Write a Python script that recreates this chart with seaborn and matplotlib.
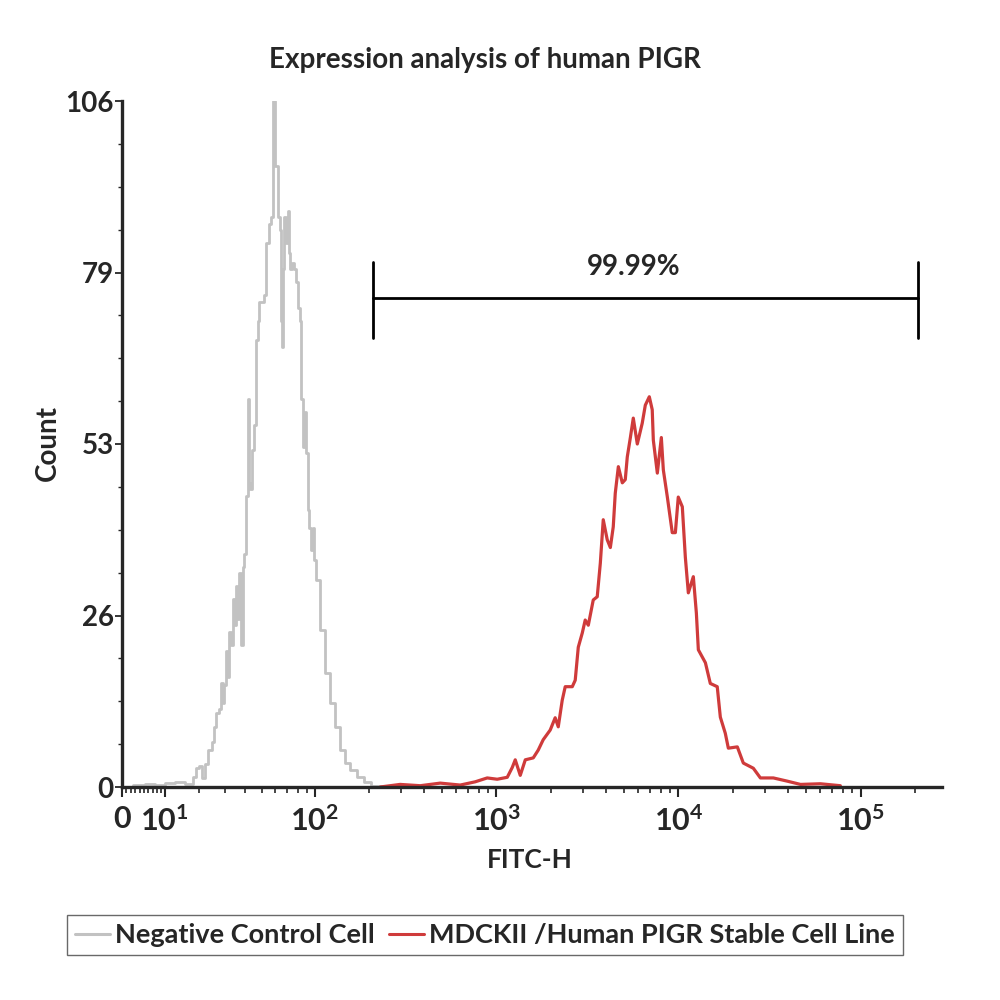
import numpy as np
import pandas as pd
import matplotlib
matplotlib.use("Agg")
import matplotlib.pyplot as plt
from matplotlib.lines import Line2D
import seaborn as sns

# negative control: FITC-H channel value and event count
neg_fitc = [0.9, 4.0, 6.4, 8.8, 11.4, 14.1, 17.1, 18.7, 19.4, 20.4, 21.4, 22.5,
            23.9, 25.0, 25.8, 26.6, 27.9, 28.7, 29.5, 30.0, 30.9, 31.3, 32.2,
            33.2, 34.2, 34.6, 35.6, 36.1, 37.2, 38.2, 38.8, 39.9, 41.0, 41.5,
            42.1, 42.7, 44.5, 45.7, 47.0, 47.6, 48.9, 50.9, 52.3, 53.7, 55.9,
            57.4, 58.1, 58.9, 59.7, 61.3, 62.9, 63.8, 64.6, 65.5, 66.3, 68.1,
            69.8, 70.8, 71.7, 73.6, 75.5, 77.5, 79.6, 81.6, 82.7, 84.9, 87.1,
            88.2, 90.5, 91.7, 94.1, 96.5, 97.8, 100.3, 104, 110, 117, 125, 133,
            142, 151, 163, 178, 195, 216, 261]
neg_count = [0.0, 0.3, 0.5, 0.3, 0.6, 0.8, 0.5, 1.5, 3.0, 3.2, 1.4, 3.5,
             5.7, 7.0, 9.3, 11.5, 12.0, 16.0, 13.0, 15.8, 21.0, 17.0, 24.0,
             22.0, 29.0, 25.0, 31.0, 26.0, 33.0, 22.0, 34.0, 36.0, 45.0, 60.0,
             47.0, 46.0, 52.0, 56.0, 69.0, 72.0, 75.0, 75.0, 76.0, 84.0, 87.0,
             88.0, 106.0, 106.0, 96.0, 96.0, 88.0, 86.0, 72.0, 68.0, 80.0, 88.0,
             84.0, 89.0, 82.5, 80.0, 81.0, 80.0, 78.0, 74.0, 72.0, 60.0, 52.5,
             58.0, 51.6, 42.8, 40.0, 36.6, 40.0, 35.0, 32.0, 24.3, 17.6, 13.0, 9.3,
             5.7, 3.7, 2.6, 1.5, 0.8, 0.2, 0.0]

# MDCKII / human PIGR stable line
pos_fitc = [230, 296, 382, 492, 633, 765, 891, 1011, 1148, 1222, 1270, 1353,
            1442, 1595, 1698, 1808, 1976, 2104, 2188, 2300, 2389, 2612, 2711,
            2818, 2964, 3076, 3199, 3405, 3581, 3724, 3864, 4064, 4227, 4385,
            4498, 4677, 4917, 5105, 5236, 5445, 5649, 5943, 6324, 6577, 6918,
            7178, 7278, 7656, 8054, 8260, 8690, 9247, 9616, 9977, 10500, 10910,
            11330, 12070, 12540, 12860, 14060, 14960, 16330, 16980, 18080,
            18790, 21050, 22710, 25770, 28180, 33200, 39630, 46770, 60180, 77450]
pos_count = [0.0, 0.4, 0.2, 0.6, 0.3, 0.8, 1.4, 1.2, 1.5, 3.0, 4.2, 1.8,
             4.2, 4.5, 5.7, 7.3, 8.8, 10.7, 9.3, 13.4, 15.5, 15.5, 16.5,
             21.6, 23.8, 25.8, 25.0, 28.9, 29.4, 34.6, 41.3, 38.2, 37.0, 40.2,
             45.4, 49.5, 47.0, 47.5, 51.0, 54.0, 57.0, 53.0, 56.2, 59.0, 60.3,
             58.3, 53.6, 48.5, 54.0, 49.0, 44.8, 39.3, 39.3, 44.8, 43.3, 35.5,
             30.0, 32.5, 26.9, 21.2, 19.2, 16.0, 15.5, 10.8, 8.3,
             6.0, 6.2, 3.7, 2.9, 1.4, 1.4, 0.9, 0.4, 0.5, 0.2]

names = ["Negative Control Cell", "MDCKII /Human PIGR Stable Cell Line"]
colors = ["#c2c2c2", "#cf3b3b"]

y_ticks = [0, 26.5, 53, 79.5, 106]
y_labels = ["0", "26", "53", "79", "106"]
x_ticks = [0, 10, 100, 1000, 10000, 100000]
x_labels = ["0"] + [r"$\mathbf{10^{%d}}$" % k for k in range(1, 6)]
gate = (210, 207000)
gate_pct = "99.99%"

sns.set_style("ticks")
plt.rcParams["font.family"] = ["Lato", "DejaVu Sans"]
plt.rcParams["font.weight"] = "bold"
plt.rcParams["mathtext.fontset"] = "custom"
plt.rcParams["mathtext.bf"] = "Lato:bold"
plt.rcParams["mathtext.rm"] = "Lato:bold"

neg = pd.DataFrame({"FITC": neg_fitc, "Count": neg_count})
pos = pd.DataFrame({"FITC": pos_fitc, "Count": pos_count})

fig = plt.figure(figsize=(10, 10), dpi=100)
ax = fig.add_axes([0.122, 0.213, 0.82, 0.686])
ax.set_xscale("asinh", linear_width=17.6)

sns.lineplot(data=neg, x="FITC", y="Count", ax=ax, color=colors[0], lw=2.0,
             drawstyle="steps-mid", estimator=None, legend=False)
sns.lineplot(data=pos, x="FITC", y="Count", ax=ax, color=colors[1], lw=2.3,
             estimator=None, legend=False)

ax.set_xlim(0, 2.8e5)
ax.set_ylim(0, 106)
ax.set_xlabel("")
ax.set_ylabel("")

ax.set_xticks(x_ticks)
ax.set_xticklabels(x_labels)
minor_x = [m * 10 ** d for d in range(0, 5) for m in range(2, 10)] + [1, 200000]
ax.set_xticks(minor_x, minor=True)
ax.set_yticks(y_ticks)
ax.set_yticklabels(y_labels)
ax.set_yticks(np.arange(0, 106.01, 106 / 16), minor=True)

sns.despine(ax=ax)
for s in ["left", "bottom"]:
    ax.spines[s].set_linewidth(2.4)
ax.tick_params(axis="x", which="major", length=7, width=1.5, labelsize=22, pad=6)
ax.tick_params(axis="x", which="minor", length=4, width=1.2)
ax.tick_params(axis="y", which="major", length=5, width=1.3, labelsize=20, pad=1)
ax.tick_params(axis="y", which="minor", length=3, width=1.0)
for lab in ax.get_xticklabels() + ax.get_yticklabels():
    lab.set_fontweight("bold")

# gate marker
ax.plot(gate, [75.6, 75.6], color="black", lw=2)
for gx in gate:
    ax.plot([gx, gx], [69.4, 81.1], color="black", lw=2)
ax.text(5650, 78.4, gate_pct, ha="center", va="bottom", fontsize=20,
        fontweight="bold")

fig.text(0.485, 0.94, "Expression analysis of human PIGR", ha="center",
         va="center", fontsize=20, fontweight="bold")
fig.text(0.53, 0.14, "FITC-H", ha="center", va="center", fontsize=19,
         fontweight="bold")
fig.text(0.048, 0.557, "Count", ha="center", va="center", rotation=90,
         fontsize=20, fontweight="bold")

handles = [Line2D([], [], color=colors[0], lw=2.2),
           Line2D([], [], color=colors[1], lw=2.2)]
leg = fig.legend(handles, names, loc="center", bbox_to_anchor=(0.485, 0.065),
                 ncol=2, frameon=True, fancybox=False,
                 handlelength=1.3, handletextpad=0.2, columnspacing=0.5,
                 borderpad=0.3, prop={"weight": "bold", "size": 19.5})
leg.get_frame().set_edgecolor("#444444")
leg.get_frame().set_linewidth(1.0)

fig.savefig("out.png", dpi=100, facecolor="white")
